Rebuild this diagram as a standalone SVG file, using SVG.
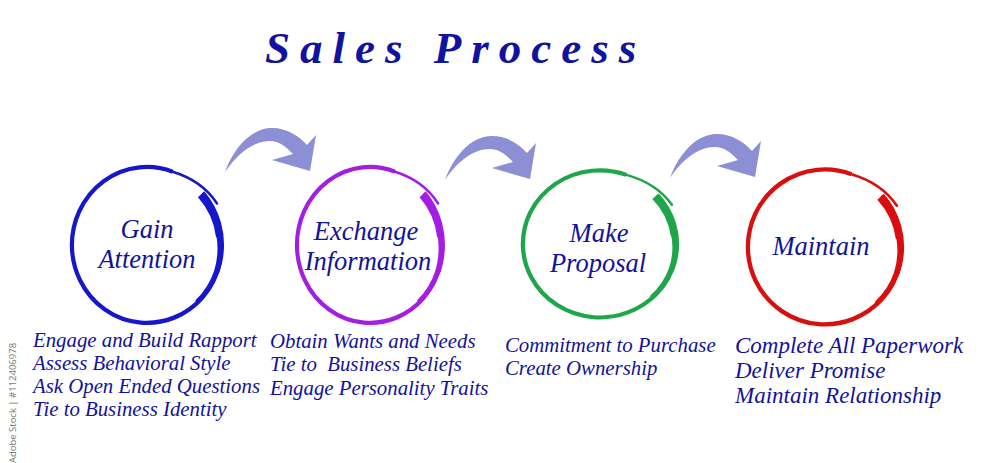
<svg xmlns="http://www.w3.org/2000/svg" width="1000" height="463" viewBox="0 0 1000 463">
<style>
.title{font-family:"Liberation Serif",serif;font-style:italic;font-weight:bold;font-size:45px;fill:#1212a0;letter-spacing:10px}
.lbl{font-family:"Liberation Serif",serif;font-style:italic;font-size:26.5px;fill:#12129b;text-anchor:middle}
.item{font-family:"Liberation Serif",serif;font-style:italic;font-size:20.8px;fill:#12129b}
.item4{font-family:"Liberation Serif",serif;font-style:italic;font-size:23px;fill:#12129b}
.wm{font-family:"Open Sans","DejaVu Sans",sans-serif;font-size:9.5px;fill:#777}
.ring path{fill:none;stroke:currentColor}
.arrow{fill:#8c8fd3}
</style>
<defs>
<g id="ring" class="ring">
<path d="M55.7,-50.2 A75,75 0 1 1 25.7,-70.5" stroke-width="4.2"/>
<path d="M25.7,-70.5 Q55,-62 70,-40" stroke-width="2.5" stroke-linecap="round"/>
<path d="M53.5,-48.2 A73,73 0 0 1 72.5,-8" stroke-width="7"/>
<path d="M72,-10 A74,74 0 0 1 70,25" stroke-width="5.5"/>
<path d="M70,24 A74.5,74.5 0 0 1 50,55" stroke-width="4.8"/>
</g>
<path id="arw" class="arrow" d="M0,0 C8,-22 25,-44 47,-44 C62,-44 74,-36 82,-27 L91,-37 L85,-1 L47,-12 L68,-18 C60,-26 54,-31 45,-31 C28,-31 12,-18 0,0 Z"/>
</defs>
<rect width="1000" height="463" fill="#ffffff"/>
<text class="title" x="265" y="63">Sales Process</text>
<g id="connectors">
<use href="#arw" transform="translate(225,172)"/>
<use href="#arw" transform="translate(445,180)"/>
<use href="#arw" transform="translate(670,178)"/>
</g>
<g id="node-gain-attention">
<use href="#ring" color="#1616cc" transform="translate(147,245) scale(1,1.04)"/>
<text class="lbl" x="147" y="238">Gain</text>
<text class="lbl" x="147" y="268">Attention</text>
<text class="item" x="33" y="347">Engage and Build Rapport</text>
<text class="item" x="33" y="370">Assess Behavioral Style</text>
<text class="item" x="33" y="393">Ask Open Ended Questions</text>
<text class="item" x="33" y="416">Tie to Business Identity</text>
</g>
<g id="node-exchange-information">
<use href="#ring" color="#a41de2" transform="translate(370,245) scale(0.973,1.04)"/>
<text class="lbl" x="366" y="240">Exchange</text>
<text class="lbl" x="368" y="270">Information</text>
<text class="item" x="270" y="348">Obtain Wants and Needs</text>
<text class="item" x="270" y="371" xml:space="preserve">Tie to  Business Beliefs</text>
<text class="item" x="270" y="395">Engage Personality Traits</text>
</g>
<g id="node-make-proposal">
<use href="#ring" color="#1fa64a" transform="translate(600,244) scale(1.027,0.98)"/>
<text class="lbl" x="599" y="242">Make</text>
<text class="lbl" x="598" y="272">Proposal</text>
<text class="item" x="505" y="352">Commitment to Purchase</text>
<text class="item" x="505" y="375">Create Ownership</text>
</g>
<g id="node-maintain">
<use href="#ring" color="#d90e0e" transform="translate(825,247) scale(1.027,1.033)"/>
<text class="lbl" x="821" y="255">Maintain</text>
<text class="item4" x="735" y="353">Complete All Paperwork</text>
<text class="item4" x="735" y="378">Deliver Promise</text>
<text class="item4" x="735" y="403">Maintain Relationship</text>
</g>
<text class="wm" transform="translate(16,403) rotate(-90)" text-anchor="middle">Adobe Stock | #112406978</text>
</svg>
